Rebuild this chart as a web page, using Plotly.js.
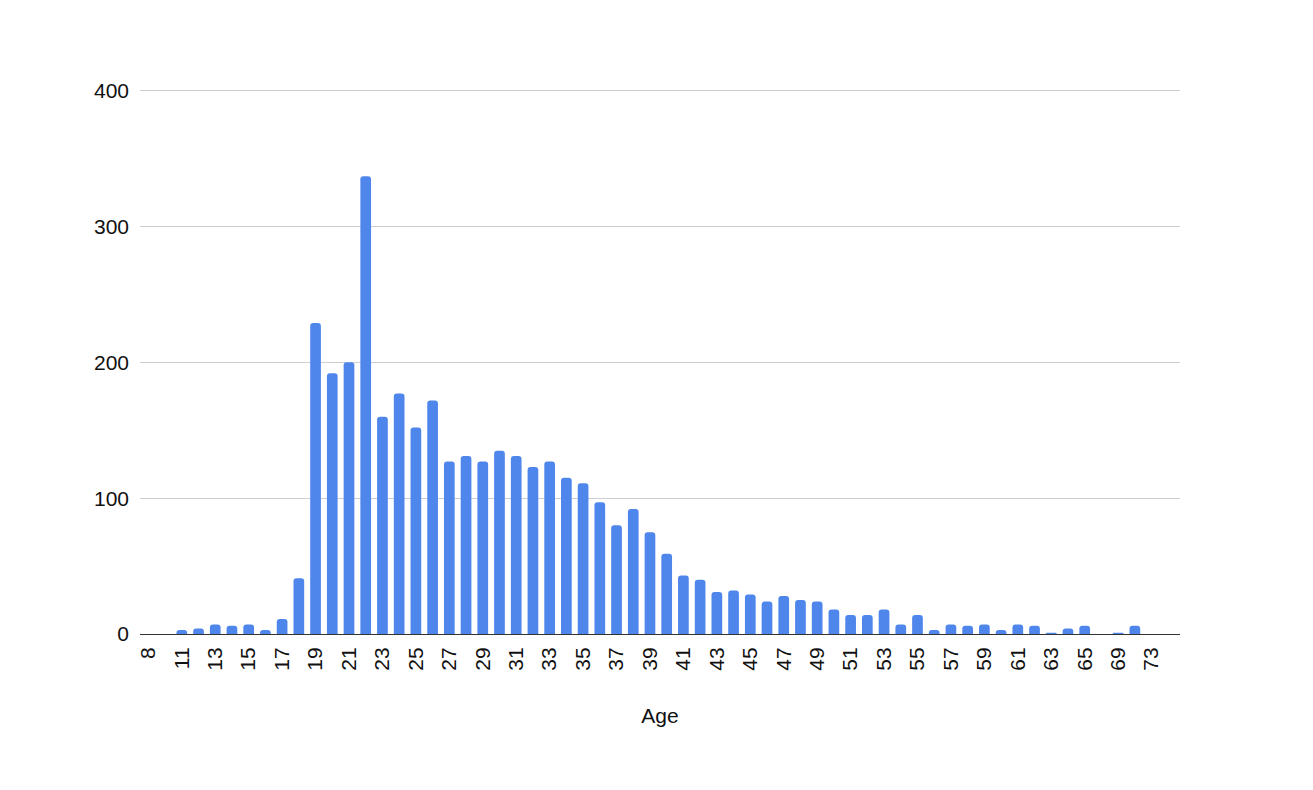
<!DOCTYPE html>
<html>
<head>
<meta charset="utf-8">
<script src="https://cdn.plot.ly/plotly-3.0.1.min.js"></script>
<style>
  html,body{margin:0;padding:0;background:#fff;}
  #chart{width:1313px;height:790px;}
</style>
</head>
<body>
<div id="chart"></div>
<script>
// ages present in the sheet (x categories) and how many people at each age
const ages   = [8,10,11,12,13,14,15,16,17,18,19,20,21,22,23,24,25,26,27,28,29,30,
                31,32,33,34,35,36,37,38,39,40,41,42,43,44,45,46,47,48,49,50,
                51,52,53,54,55,56,57,58,59,60,61,62,63,64,65,67,69,71,73];
const counts = [0,0,3,4,7,6,7,3,11,41,229,192,200,337,160,177,152,172,127,131,127,135,
                131,123,127,115,111,97,80,92,75,59,43,40,31,32,29,24,28,25,24,18,
                14,14,18,7,14,3,7,6,7,3,7,6,1,4,6,0,1,6,0];
const yTicks = [0,100,200,300,400];

const BLUE="#4f86ec", FONT="Liberation Sans, Arial, Helvetica, sans-serif";

const trace={
  type:"bar",
  x:ages.map(String), y:counts,
  marker:{color:BLUE,cornerradius:3},
  hoverinfo:"x+y"
};

const layout={
  width:1313, height:790,
  margin:{l:140,r:133,t:88,b:156},
  paper_bgcolor:"#fff", plot_bgcolor:"#fff",
  font:{family:FONT,size:21,color:"#111"},
  bargap:0.36,
  showlegend:false,
  xaxis:{
    type:"category",
    range:[-0.5,61.7],
    tickmode:"linear", tick0:0, dtick:2,
    tickangle:-90,
    ticks:"", showgrid:false, zeroline:false,
    showline:true, linecolor:"#333", linewidth:1,
    tickfont:{size:21,color:"#111"},
    ticklabelstandoff:4,
    title:{text:"Age",font:{size:21,color:"#111"},standoff:38},
    automargin:false
  },
  yaxis:{
    range:[0,402],
    tickvals:yTicks,
    ticks:"", showgrid:true, gridcolor:"#cfcfcf", gridwidth:1,
    zeroline:false, showline:false,
    tickfont:{size:21,color:"#111"},
    ticklabelstandoff:10,
    automargin:false
  }
};

Plotly.newPlot("chart",[trace],layout,{displayModeBar:false,staticPlot:true});
</script>
</body>
</html>
